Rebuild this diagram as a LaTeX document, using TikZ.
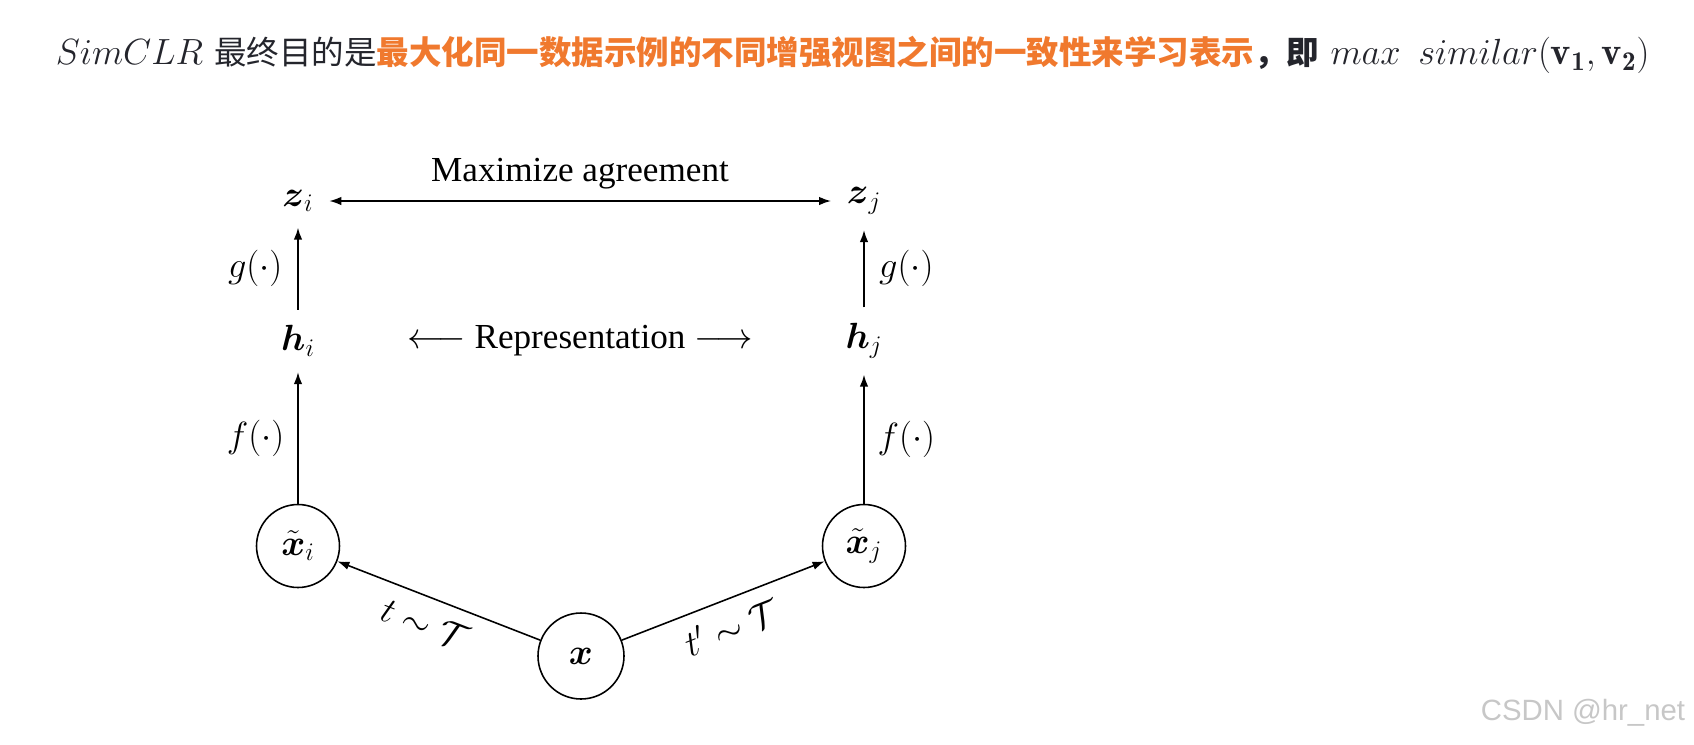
\documentclass[tikz,border=0pt]{standalone}
\usepackage{amsmath, amssymb}
\usepackage{fontspec}
\usepackage{tikz}
\usetikzlibrary{arrows.meta, positioning}
\newfontfamily\cjk{Noto Sans CJK SC}
\newfontfamily\timesfont{Liberation Serif}
\newfontfamily\wmfont{Liberation Sans}
\definecolor{ink}{RGB}{36,37,44}
\definecolor{hl}{RGB}{240,121,46}

\begin{document}
\begin{tikzpicture}[x=0.02cm,y=-0.02cm,line width=0.9pt,font=\fontsize{20}{24}\selectfont,
vec/.style={inner sep=3mm},
aug/.style={draw,circle,minimum size=1.66cm,inner sep=0pt},
txt/.style={font=\timesfont\fontsize{20}{24}\selectfont},
arr/.style={-{Latex[length=2.4mm,width=1.7mm]}}]
\useasboundingbox (0,0) rectangle (1694,744);
\node[anchor=west,inner sep=0pt,text=ink,font=\fontsize{21}{25}\selectfont] (title) at (55,55) {$SimCLR$ {\cjk\fontsize{18.5}{22}\selectfont 最终目的是\textbf{\color{hl}最大化同一数据示例的不同增强视图之间的一致性来学习表示}\textbf{，即}} {\fontsize{22}{26}\selectfont$max\ \,similar(\mathbf{v_1},\mathbf{v_2})$}};
\node[vec] (zi) at (298,201) {$\boldsymbol{z}_i$};
\node[vec] (zj) at (864,201) {$\boldsymbol{z}_j$};
\node[vec] (hi) at (298,341) {$\boldsymbol{h}_i$};
\node[vec] (hj) at (864,341) {$\boldsymbol{h}_j$};
\node[aug] (xi) at (298,546) {$\tilde{\boldsymbol{x}}_i$};
\node[aug] (xj) at (864,546) {$\tilde{\boldsymbol{x}}_j$};
\node[aug,minimum size=1.72cm] (x) at (581,656) {$\boldsymbol{x}$};
\node[txt] (agree) at (580,174) {Maximize agreement};
\node[txt] (repr) at (580,341) {$\longleftarrow$ Representation $\longrightarrow$};
\draw[{Latex[length=2.4mm,width=1.7mm]}-{Latex[length=2.4mm,width=1.7mm]}] (zi) -- (zj);
\draw[arr] (hi) -- node[left=1.8mm] {$g(\cdot)$} (zi);
\draw[arr] (hj) -- node[right=1.7mm] {$g(\cdot)$} (zj);
\draw[arr] (xi) -- node[left=1.4mm] {$f(\cdot)$} (hi);
\draw[arr] (xj) -- node[right=1.4mm] {$f(\cdot)$} (hj);
\draw[{Latex[length=2.4mm,width=1.7mm]}-] (xi) -- node[sloped,below=1.5mm,pos=0.48] {$t\sim\mathcal{T}$} (x);
\draw[arr] (x) -- node[sloped,below=1.5mm,pos=0.49] {$t'\sim\mathcal{T}$} (xj);
\node[font=\wmfont\fontsize{16.7}{20}\selectfont,text=black!22] (wm) at (1583,713) {CSDN @hr\_net};
\end{tikzpicture}
\end{document}
